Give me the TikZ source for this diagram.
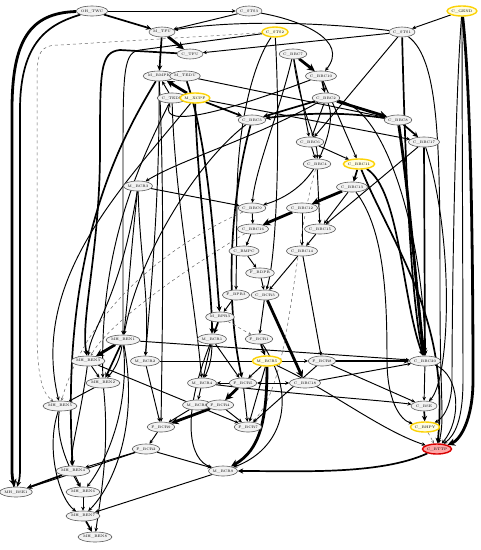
\documentclass[tikz,border=0pt]{standalone}
\usetikzlibrary{shapes.geometric, arrows.meta, backgrounds}

\tikzset{
  job/.style={ellipse, draw=black!65, fill=gray!10, line width=0.6pt, inner sep=0pt,
    minimum width=26pt, minimum height=10pt, font=\fontsize{3.6}{4}\selectfont},
  hot/.style={job, draw=yellow!70!orange, line width=1.4pt, fill=yellow!12},
  fail/.style={job, draw=red!85!black, line width=1.4pt, fill=red!35},
  dep/.style={-{Stealth[length=2pt 2, width=1.8pt 2]}, line width=0.95pt},
  depb/.style={dep, line width=1.7pt},
  deph/.style={dep, line width=2.8pt},
  soft/.style={dep, dashed, line width=0.5pt, black!60},
}

\begin{document}
\begin{tikzpicture}[x=1pt,y=-1pt]
    \useasboundingbox (0,0) rectangle (481,550);
    % top row
    \node[job] (ohtwc) at (92,11) {OH\_TWC};
    \node[job] (sts3) at (249,11) {C\_STS3};
    \node[hot] (gend) at (462,11) {C\_GEND};
    \node[job] (mtfu) at (162,32) {M\_TFU};
    \node[hot] (sts2) at (275,32) {C\_STS2};
    \node[job] (sts1) at (402,32) {C\_STS1};
    \node[job] (ctfu) at (190,54) {C\_TFU};
    \node[job] (bbc7) at (293,54) {C\_BBC7};
    \node[job] (mbmpk) at (159,76) {M\_BMPK};
    \node[job] (mtedu) at (185,76) {M\_TEDU};
    \node[job] (bbc10) at (321,76) {C\_BBC10};
    \node[job] (ctedu) at (172,98) {C\_TEDU};
    \node[hot] (mxcpf) at (195,98) {M\_XCPF};
    \node[job] (bbc2) at (326,98) {C\_BBC2};
    \node[job] (bbc3) at (252,120) {C\_BBC3};
    \node[job] (bbc8) at (398,120) {C\_BBC8};
    \node[job] (bbc6) at (310,142) {C\_BBC6};
    \node[job] (bbc17) at (424,142) {C\_BBC17};
    \node[job] (bbc4) at (317,164) {C\_BBC4};
    \node[hot] (bbc11) at (359,164) {C\_BBC11};
    \node[job] (bbc13) at (352,187) {C\_BBC13};
    \node[job] (mbcr3) at (138,186) {M\_BCR3};
    \node[job] (bbc9) at (252,208) {C\_BBC9};
    \node[job] (bbc12) at (302,208) {C\_BBC12};
    \node[job] (bbc16) at (253,229) {C\_BBC16};
    \node[job] (bbc15) at (320,229) {C\_BBC15};
    \node[job] (bmpc) at (244,251) {C\_BMPC};
    \node[job] (bbc14) at (302,251) {C\_BBC14};
    \node[job] (fbdpr) at (260,273) {F\_BDPR};
    \node[job] (fbpr3) at (236,295) {F\_BPR3};
    \node[job] (cbcr3) at (265,295) {C\_BCR3};
    \node[job] (mbpr3) at (220,317) {M\_BPR3};
    % lower half
    \node[job] (mbcr1) at (212,339) {M\_BCR1};
    \node[job] (fbcr1) at (259,339) {F\_BCR1};
    \node[job] (ben1) at (123,340) {MH\_BEN1};
    \node[job] (ben3) at (88,361) {MH\_BEN3};
    \node[job] (mbcr2) at (145,361) {M\_BCR2};
    \node[hot] (mbcr5) at (267,361) {M\_BCR5};
    \node[job] (fbcr8) at (322,361) {F\_BCR8};
    \node[job] (bbc20) at (425,361) {C\_BBC20};
    \node[job] (ben2) at (103,383) {MH\_BEN2};
    \node[job] (mbcr4) at (202,383) {M\_BCR4};
    \node[job] (fbcr5) at (243,383) {F\_BCR5};
    \node[job] (bbc18) at (305,383) {C\_BBC18};
    \node[job] (ben5) at (60,406) {MH\_BEN5};
    \node[job] (mbcr6) at (197,405) {M\_BCR6};
    \node[job] (fbcr4) at (220,405) {F\_BCR4};
    \node[job] (cbse) at (424,406) {C\_BSE};
    \node[job] (fbcr9) at (161,427) {F\_BCR9};
    \node[job] (fbcr7) at (248,427) {F\_BCR7};
    \node[hot] (bhpy) at (425,427) {C\_BHPY};
    \node[job] (fbcr2) at (146,449) {F\_BCR2};
    \node[fail] (bttp) at (437,449) {C\_BTTP};
    \node[job] (ben4) at (73,471) {MH\_BEN4};
    \node[job] (mbcr9) at (223,471) {M\_BCR9};
    \node[job] (bse1) at (16,492) {MH\_BSE1};
    \node[job] (ben6) at (83,492) {MH\_BEN6};
    \node[job] (ben7) at (83,516) {MH\_BEN7};
    \node[job] (ben8) at (95,537) {MH\_BEN8};

    \begin{scope}[on background layer]
    % top
    \draw[depb] (ohtwc) -- (mtfu);
    \draw[dep] (ohtwc) -- (sts3);
    \draw[deph] (ohtwc) .. controls (30,13) and (12,40) .. (12,110) -- (12,470) .. controls (12,480) and (14,484) .. (bse1);
    \draw[depb] (ohtwc) .. controls (50,24) and (20,40) .. (20,110) -- (20,470) .. controls (20,480) and (18,484) .. (bse1);
    \draw[soft] (sts2) -- (60,45) .. controls (40,45) and (37,52) .. (37,80) -- (37,330) .. controls (37,385) and (45,395) .. (ben5);
    \draw[dep] (sts3) -- (mtfu);
    \draw[dep] (sts1) .. controls (300,20) and (220,22) .. (mtfu);
    \draw[dep] (gend) -- (sts1);
    \draw[deph] (mtfu) -- (ctfu);
    \draw[depb] (mtfu) -- (mbmpk);
    \draw[dep] (sts1) -- (ctfu);
    \draw[dep] (sts2) .. controls (255,60) and (237,120) .. (237,200) -- (fbpr3);
    \draw[dep] (sts2) .. controls (280,120) and (278,250) .. (cbcr3);
    \draw[depb] (ctfu) -- (120,50) .. controls (100,52) and (100,70) .. (100,150) .. controls (100,250) and (80,320) .. (ben3);
    \draw[dep] (sts2) -- (140,50) .. controls (124,52) and (123,70) .. (123,150) -- (ben1);
    \draw[dep] (sts3) .. controls (300,20) and (350,40) .. (bbc10);
    % right bundle
    \draw[deph] (bbc7) -- (bbc10);
    \draw[depb] (bbc10) -- (bbc2);
    \draw[deph] (bbc2) -- (bbc8);
    \draw[depb] (bbc8) -- (bbc17);
    \draw[dep] (sts1) -- (bbc6);
    \draw[depb] (sts1) .. controls (405,150) and (410,300) .. (bbc20);
    \draw[dep] (sts1) .. controls (440,60) and (440,150) .. (440,300) .. controls (440,400) and (445,420) .. (bttp);
    \draw[deph] (gend) .. controls (472,100) and (473,300) .. (473,380) .. controls (473,420) and (460,440) .. (bttp);
    \draw[dep] (gend) .. controls (462,100) and (463,300) .. (463,380) .. controls (463,420) and (455,435) .. (bttp);
    \draw[dep] (gend) .. controls (455,100) and (452,300) .. (452,380) .. controls (452,410) and (440,420) .. (bhpy);
    \draw[deph] (bbc8) .. controls (410,200) and (417,300) .. (bbc20);
    \draw[depb] (bbc17) -- (bbc20);
    \draw[depb] (bbc11) .. controls (400,190) and (402,300) .. (bbc20);
    \draw[dep] (bbc2) .. controls (390,110) and (425,250) .. (bbc20);
    \draw[dep] (bbc17) .. controls (455,240) and (450,380) .. (cbse);
    \draw[dep] (bbc20) -- (cbse);
    \draw[depb] (cbse) -- (bhpy);
    \draw[soft] (bhpy) -- (bttp);
    \draw[dep] (bbc20) .. controls (460,375) and (462,420) .. (bttp);
    \draw[depb] (bbc11) .. controls (395,250) and (450,320) .. (bttp);
    \draw[dep] (bbc13) .. controls (385,230) and (387,300) .. (387,360) .. controls (387,400) and (400,420) .. (bhpy);
    % bbc cluster
    \draw[depb] (bbc2) -- (bbc3);
    \draw[depb] (mxcpf) -- (bbc3);
    \draw[deph] (mxcpf) -- (mbmpk);
    \draw[dep] (ctedu) -- (mbmpk);
    \draw[dep] (mtedu) -- (bbc8);
    \draw[depb] (bbc8) .. controls (330,110) and (290,115) .. (bbc3);
    \draw[dep] (mxcpf) -- (bbc17);
    \draw[dep] (bbc7) -- (bbc6);
    \draw[dep] (bbc7) .. controls (300,110) and (318,140) .. (bbc4);
    \draw[dep] (bbc7) .. controls (280,110) and (255,170) .. (bbc9);
    \draw[dep] (bbc2) -- (bbc6);
    \draw[dep] (bbc2) .. controls (335,120) and (325,145) .. (bbc4);
    \draw[dep] (bbc10) -- (bbc11);
    \draw[dep] (bbc6) -- (bbc4);
    \draw[dep] (bbc6) -- (bbc11);
    \draw[depb] (bbc11) -- (bbc13);
    \draw[deph] (bbc13) -- (bbc12);
    \draw[deph] (bbc12) -- (bbc16);
    \draw[dep] (bbc9) -- (bbc16);
    \draw[dep] (bbc16) -- (bmpc);
    \draw[dep] (bmpc) -- (fbdpr);
    \draw[dep] (bbc4) -- (bbc15);
    \draw[dep] (bbc13) -- (bbc15);
    \draw[dep] (bbc17) -- (bbc15);
    \draw[dep] (bbc15) -- (bbc14);
    \draw[dep] (bbc12) -- (bbc14);
    \draw[dep] (mbcr3) -- (bbc9);
    \draw[dep] (bbc2) .. controls (250,140) and (180,160) .. (mbcr3);
    \draw[dep] (bbc4) .. controls (300,190) and (280,200) .. (bbc9);
    \draw[dep] (fbdpr) -- (cbcr3);
    \draw[dep] (bbc14) -- (cbcr3);
    \draw[deph] (cbcr3) -- (bbc18);
    \draw[soft] (bbc4) .. controls (290,260) and (292,380) .. (fbcr7);
    \draw[soft] (bbc16) .. controls (200,260) and (110,320) .. (ben3);
    \draw[soft] (bbc9) .. controls (180,240) and (90,300) .. (ben5);
    % long lines from the top left
    \draw[dep] (mbmpk) .. controls (160,200) and (150,300) .. (mbcr2);
    \draw[dep] (mbmpk) .. controls (165,200) and (162,350) .. (fbcr9);
    \draw[depb] (mxcpf) .. controls (198,200) and (212,280) .. (mbcr1);
    \draw[dep] (ctedu) .. controls (175,200) and (195,300) .. (mbcr4);
    \draw[depb] (mtedu) .. controls (210,150) and (215,260) .. (mbpr3);
    \draw[dep] (mxcpf) .. controls (120,190) and (30,280) .. (ben5);
    \draw[dep] (ctedu) .. controls (130,180) and (100,260) .. (ben2);
    \draw[depb] (mbmpk) .. controls (120,140) and (60,250) .. (ben4);
    \draw[dep] (bbc3) .. controls (200,160) and (140,250) .. (ben1);
    \draw[dep] (bbc10) .. controls (230,110) and (160,130) .. (ctedu);
    \draw[depb] (bbc3) .. controls (230,200) and (225,300) .. (fbcr5);
    \draw[dep] (mbcr3) .. controls (130,260) and (128,300) .. (ben1);
    \draw[dep] (mbcr3) .. controls (140,260) and (150,300) .. (mbcr2);
    \draw[dep] (mbcr3) .. controls (120,300) and (90,330) .. (ben3);
    % lower middle
    \draw[dep] (fbpr3) -- (mbpr3);
    \draw[depb] (mbpr3) -- (mbcr1);
    \draw[soft] (mbpr3) -- (fbcr1);
    \draw[dep] (cbcr3) -- (fbcr1);
    \draw[depb] (fbcr1) -- (mbcr5);
    \draw[dep] (mbcr5) -- (fbcr5);
    \draw[dep] (mbcr5) -- (fbcr7);
    \draw[dep] (mbcr1) -- (mbcr4);
    \draw[dep] (mbcr1) to[bend left=12] (mbcr4);
    \draw[dep] (mbcr1) -- (fbcr5);
    \draw[dep] (fbcr5) -- (mbcr4);
    \draw[{Stealth[length=2pt 2, width=1.8pt 2]}-{Stealth[length=2pt 2, width=1.8pt 2]}, line width=0.95pt] (fbcr5) -- (bbc18);
    \draw[deph] (fbcr5) -- (fbcr4);
    \draw[dep] (fbcr5) -- (fbcr7);
    \draw[dep] (mbcr4) -- (mbcr6);
    \draw[deph] (fbcr4) -- (fbcr9);
    \draw[dep] (fbcr4) -- (fbcr7);
    \draw[dep] (mbcr6) -- (fbcr9);
    \draw[dep] (fbcr9) -- (fbcr2);
    \draw[dep] (fbcr2) -- (ben4);
    \draw[dep] (fbcr2) -- (mbcr9);
    \draw[dep] (fbcr2) -- (bse1);
    \draw[depb] (bttp) .. controls (380,475) and (300,471) .. (mbcr9);
    \draw[dep] (bbc18) -- (bbc20);
    \draw[dep] (mbcr5) .. controls (330,390) and (380,430) .. (bttp);
    \draw[deph] (mbcr5) .. controls (267,420) and (260,450) .. (mbcr9);
    \draw[dep] (fbcr1) .. controls (300,400) and (280,450) .. (mbcr9);
    \draw[dep] (mbcr1) .. controls (180,420) and (190,460) .. (mbcr9);
    \draw[dep] (mbcr9) -- (ben7);
    \draw[dep] (mbcr2) -- (fbcr9);
    \draw[dep] (mbcr2) -- (fbcr8);
    \draw[depb] (fbcr8) -- (bbc20);
    \draw[dep] (fbcr8) -- (cbse);
    \draw[dep] (bbc14) -- (fbcr8);
    \draw[dep] (fbcr8) -- (fbcr7);
    \draw[dep] (mbcr4) .. controls (300,395) and (380,400) .. (cbse);
    % left bottom
    \draw[deph] (ben1) -- (ben3);
    \draw[depb] (ben1) -- (ben2);
    \draw[dep] (ben1) to[bend left=15] (ben2);
    \draw[dep] (ben3) -- (ben2);
    \draw[dep] (ben2) -- (ben5);
    \draw[dep] (ben3) -- (fbcr7);
    \draw[dep] (ben1) -- (bbc20);
    \draw[dep] (ben1) .. controls (130,420) and (100,470) .. (ben6);
    \draw[dep] (ben1) .. controls (140,430) and (110,490) .. (ben7);
    \draw[dep] (ben3) .. controls (80,420) and (70,450) .. (ben4);
    \draw[dep] (ben5) .. controls (55,440) and (70,470) .. (ben6);
    \draw[dep] (ben2) .. controls (110,450) and (100,500) .. (ben8);
    \draw[dep] (ben5) .. controls (45,450) and (60,500) .. (ben7);
    \draw[dep] (ben4) -- (ben6);
    \draw[dep] (ben6) -- (ben7);
    \draw[depb] (ben7) -- (ben8);
    \draw[depb] (ben4) -- (bse1);
    \end{scope}
\end{tikzpicture}
\end{document}
